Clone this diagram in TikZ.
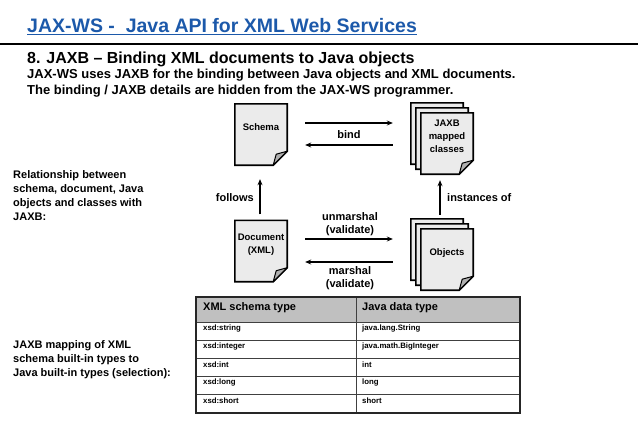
\documentclass[tikz,border=0pt]{standalone}
\usepackage{fontspec}
\setmainfont{Liberation Sans}
\usetikzlibrary{arrows.meta,calc}
\definecolor{titleblue}{RGB}{28,89,170}
\definecolor{pagegrey}{RGB}{235,235,235}
\definecolor{foldgrey}{RGB}{175,175,175}
\definecolor{headgrey}{RGB}{192,192,192}
\newcommand\docpage[3]{%
  \node[pagebox] (#1) at (#2,#3) {};
  \path[pagefill] (#1.north west) -- (#1.north east) -- ([yshift=14pt]#1.south east) -- ([xshift=-14pt]#1.south east) -- (#1.south west) -- cycle;
  \path[foldfill] ([yshift=14pt]#1.south east) -- ([xshift=-14pt]#1.south east) -- ([xshift=-11pt,yshift=11pt]#1.south east) -- cycle;
}
\begin{document}
\begin{tikzpicture}[x=1pt,y=-1pt,
  pagebox/.style={minimum width=52pt,minimum height=61pt,inner sep=0pt},
  pagefill/.style={fill=pagegrey,draw=black,line width=1.6pt,line join=miter},
  foldfill/.style={fill=foldgrey,draw=black,line width=1pt,line join=round},
  pagetext/.style={font=\fontsize{9.5}{13}\selectfont\bfseries,align=center,inner sep=0pt},
  lbl/.style={font=\fontsize{11}{13}\selectfont\bfseries,align=center,inner sep=0pt},
  side/.style={font=\fontsize{11}{14}\selectfont\bfseries,align=left,anchor=north west,inner sep=0pt},
  arr/.style={line width=1.3pt,-{Stealth[length=6pt,width=5pt]}},
  cell/.style={font=\fontsize{7.8}{9}\selectfont\bfseries,anchor=west,inner sep=0pt},
  headcell/.style={font=\fontsize{11}{13}\selectfont\bfseries,anchor=west,inner sep=0pt},
  head/.style={anchor=base west,inner sep=0pt},
  grid/.style={line width=0.8pt,black!75}
]
\useasboundingbox (0,0) rectangle (638,442);

% title
\node[head,text=titleblue,font=\fontsize{19.5}{22}\selectfont\bfseries] (title) at (27,32) {JAX-WS -\ \ Java API for XML Web Services};
\draw[titleblue,line width=1.4pt] ([yshift=-2.2pt]title.base west) -- ([yshift=-2.2pt]title.base east);
\coordinate (ruleL) at (0,44);
\coordinate (ruleR) at (638,44);
\draw[line width=1.2pt] (ruleL) -- (ruleR);

\node[head,font=\fontsize{16}{20}\selectfont\bfseries] (sub) at (27,63) {8. JAXB – Binding XML documents to Java objects};
\node[head,font=\fontsize{13}{16}\selectfont\bfseries] (l2) at (27,78) {JAX-WS uses JAXB for the binding between Java objects and XML documents.};
\node[head,font=\fontsize{13}{16}\selectfont\bfseries] (l3) at (27,94) {The binding / JAXB details are hidden from the JAX-WS programmer.};

% pages
\docpage{schema}{261}{134.5}
\docpage{doc}{261}{251}
\docpage{cls3}{437}{133.5}
\docpage{cls2}{442}{138.5}
\docpage{cls}{447}{143.5}
\docpage{obj3}{437}{249.5}
\docpage{obj2}{442}{254.5}
\docpage{obj}{447}{259.5}

\node[pagetext] (schemaT) at ($(schema.north)+(0,23.5)$) {Schema};
\node[pagetext] (docT) at ($(doc.north)+(0,24)$) {Document\\(XML)};
\node[pagetext] (clsT) at ($(cls.north)+(0,23.5)$) {JAXB\\mapped\\classes};
\node[pagetext] (objT) at ($(obj.north)+(0,24)$) {Objects};

% connectors
\draw[arr] ($(schema.east)+(18,-11.5)$) -- ($(cls3.west)+(-18,-10.5)$);
\draw[arr] ($(cls3.west)+(-18,11.5)$) -- ($(schema.east)+(18,10.5)$);
\node[lbl] (bind) at (349,135) {bind};

\draw[arr] ($(doc.east)+(18,-12)$) -- ($(obj3.west)+(-18,-10.5)$);
\draw[arr] ($(obj3.west)+(-18,12.5)$) -- ($(doc.east)+(18,11)$);
\node[lbl] (unm) at (350,224) {unmarshal\\(validate)};
\node[lbl] (mar) at (350,278) {marshal\\(validate)};

\draw[arr] ($(doc.north)+(-1,-6)$) -- ($(schema.south)+(-1,14)$);
\node[lbl,anchor=east] (fol) at (254,198) {follows};
\draw[arr] ($(obj3.north)+(3,-4)$) -- ($(cls.south)+(-7,6)$);
\node[lbl,anchor=west] (inst) at (447,198) {instances of};

% side texts
\node[side] (rel) at (13,170) {Relationship between\\schema, document, Java\\objects and classes with\\JAXB:};
\node[side] (map) at (13,340) {JAXB mapping of XML\\schema built-in types to\\Java built-in types (selection):};

% table
\path[fill=headgrey] (196,297) rectangle (520,322);
\foreach \yy in {322,340.2,358.4,376.6,394.8} \draw[grid] (196,\yy) -- (520,\yy);
\draw[grid] (356,297) -- (356,413);
\draw[line width=1.8pt,black!85] (196,297) rectangle (520,413);

\node[headcell] (h1) at (203,308) {XML schema type};
\node[headcell] (h2) at (362,308) {Java data type};
\node[cell] (a1) at (203,328.2) {xsd:string};
\node[cell] (b1) at (362,328.2) {java.lang.String};
\node[cell] (a2) at (203,346.4) {xsd:integer};
\node[cell] (b2) at (362,346.4) {java.math.BigInteger};
\node[cell] (a3) at (203,364.6) {xsd:int};
\node[cell] (b3) at (362,364.6) {int};
\node[cell] (a4) at (203,382.8) {xsd:long};
\node[cell] (b4) at (362,382.8) {long};
\node[cell] (a5) at (203,401) {xsd:short};
\node[cell] (b5) at (362,401) {short};
\end{tikzpicture}
\end{document}
